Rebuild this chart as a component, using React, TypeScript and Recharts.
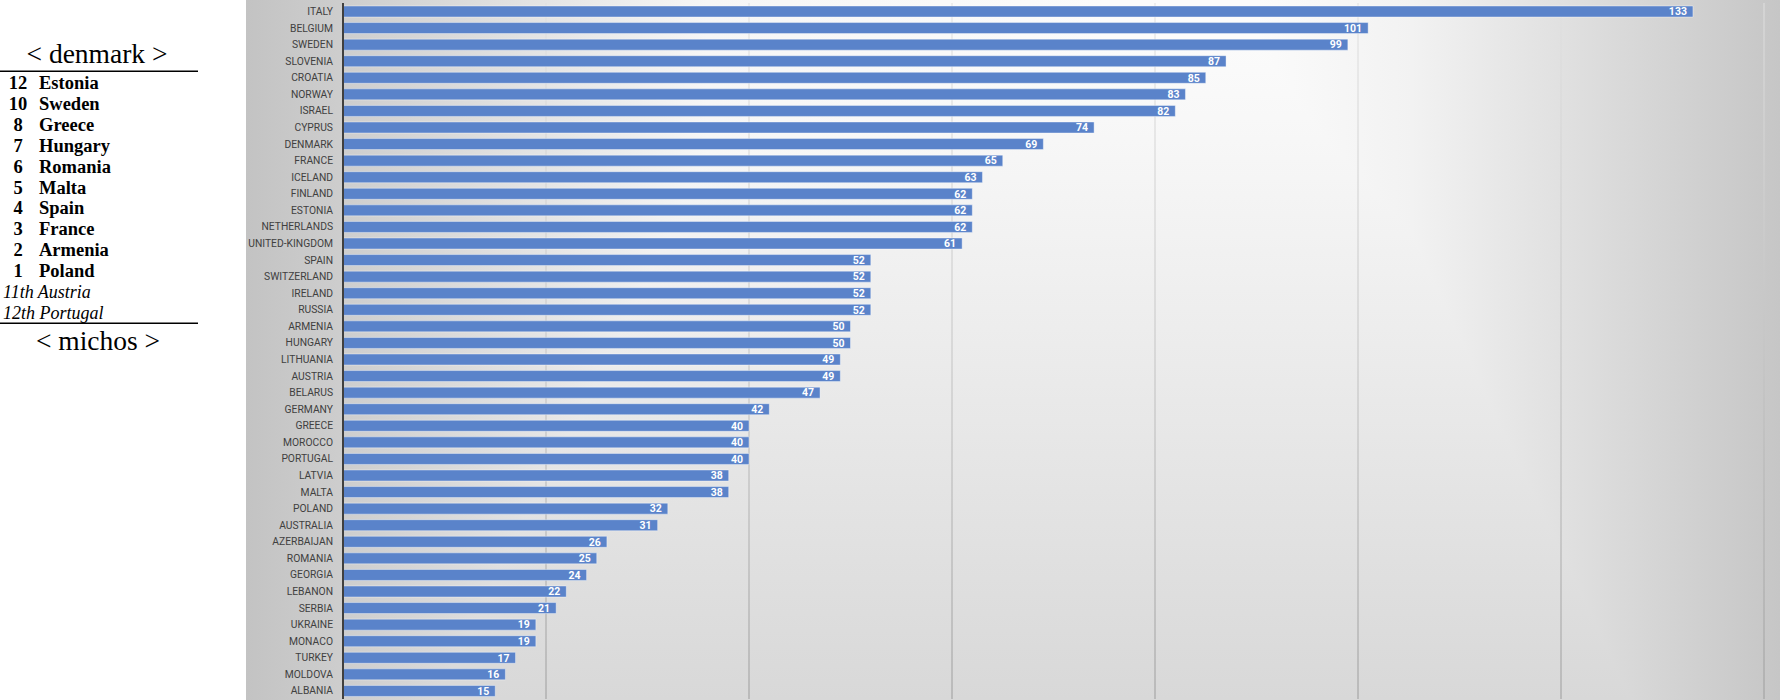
import React from "react";
import {
  BarChart,
  Bar,
  XAxis,
  YAxis,
  CartesianGrid,
  LabelList,
} from "recharts";

// ranking, top to bottom
const countries = [
  "ITALY", "BELGIUM", "SWEDEN", "SLOVENIA", "CROATIA", "NORWAY", "ISRAEL",
  "CYPRUS", "DENMARK", "FRANCE", "ICELAND", "FINLAND", "ESTONIA", "NETHERLANDS",
  "UNITED-KINGDOM", "SPAIN", "SWITZERLAND", "IRELAND", "RUSSIA", "ARMENIA",
  "HUNGARY", "LITHUANIA", "AUSTRIA", "BELARUS", "GERMANY", "GREECE", "MOROCCO",
  "PORTUGAL", "LATVIA", "MALTA", "POLAND", "AUSTRALIA", "AZERBAIJAN", "ROMANIA",
  "GEORGIA", "LEBANON", "SERBIA", "UKRAINE", "MONACO", "TURKEY", "MOLDOVA",
  "ALBANIA",
];
const points = [
  133, 101, 99, 87, 85, 83, 82, 74, 69, 65, 63, 62, 62, 62, 61, 52, 52, 52, 52,
  50, 50, 49, 49, 47, 42, 40, 40, 40, 38, 38, 32, 31, 26, 25, 24, 22, 21, 19,
  19, 17, 16, 15,
];
const gridTicks = [0, 20, 40, 60, 80, 100, 120, 140];

// side panel: one voter's list
const voterName = "denmark";
const nextVoter = "michos";
const votePoints = [12, 10, 8, 7, 6, 5, 4, 3, 2, 1];
const voteCountries = [
  "Estonia", "Sweden", "Greece", "Hungary", "Romania", "Malta", "Spain",
  "France", "Armenia", "Poland",
];
const extraPlaces = ["11th", "12th"];
const extraCountries = ["Austria", "Portugal"];

const data = countries.map((c, i) => ({ country: c, points: points[i] }));

const SERIF = "'Liberation Serif', 'Times New Roman', serif";
const SANS = "Roboto, 'Liberation Sans', sans-serif";

const SidePanel = () => {
  const rowY = (i: number) => 89 + i * 20.9;
  return (
    <svg width={246} height={700} style={{ position: "absolute", left: 0, top: 0 }}>
      <text x={97} y={63} textAnchor="middle" fontFamily={SERIF} fontSize={27.5} fill="#000">
        {`< ${voterName} >`}
      </text>
      <rect x={0} y={70.5} width={198} height={1.5} fill="#000" />
      {votePoints.map((p, i) => (
        <g key={p} fontFamily={SERIF} fontSize={18.5} fontWeight="bold" fill="#000">
          <text x={18} y={rowY(i)} textAnchor="middle">{p}</text>
          <text x={39} y={rowY(i)}>{voteCountries[i]}</text>
        </g>
      ))}
      {extraPlaces.map((p, i) => (
        <text
          key={p}
          x={3}
          y={rowY(votePoints.length + i)}
          fontFamily={SERIF}
          fontSize={18}
          fontStyle="italic"
          fill="#000"
        >
          {`${p} ${extraCountries[i]}`}
        </text>
      ))}
      <rect x={0} y={322.5} width={198} height={1.5} fill="#000" />
      <text x={98} y={350} textAnchor="middle" fontFamily={SERIF} fontSize={27.5} fill="#000">
        {`< ${nextVoter} >`}
      </text>
    </svg>
  );
};

export default function App() {
  return (
    <div style={{ position: "absolute", left: 0, top: 0, width: 1780, height: 700, background: "#fff" }}>
      <SidePanel />
      <div
        style={{
          position: "absolute",
          left: 246,
          top: 0,
          width: 1534,
          height: 700,
          backgroundImage:
            "linear-gradient(to right, #c3c3c3 0%, #cdcdcd 6%, #e2e2e2 18%, #f6f6f6 30%, #fbfbfb 56%, #fbfbfb 66%, #f2f2f2 76%, #e0e0e0 86%, #c6c6c6 100%), linear-gradient(to bottom, #fdfdfd 0%, #f7f7f7 20%, #e8e8e8 60%, #d8d8d8 100%)",
          backgroundBlendMode: "darken",
        }}
      >
        <BarChart
          width={1534}
          height={700}
          data={data}
          layout="vertical"
          margin={{ top: 3, right: 16, bottom: 1, left: 0 }}
          barCategoryGap="36%"
        >
          <defs>
            <linearGradient id="gridGrad" gradientUnits="userSpaceOnUse" x1={0} y1={0} x2={0} y2={700}>
              <stop offset="0%" stopColor="#e0e0e0" />
              <stop offset="50%" stopColor="#c4c4c4" />
              <stop offset="100%" stopColor="#9c9c9c" />
            </linearGradient>
          </defs>
          <CartesianGrid horizontal={false} stroke="url(#gridGrad)" strokeWidth={1} />
          <XAxis type="number" domain={[0, 140]} ticks={gridTicks} hide />
          <YAxis
            type="category"
            dataKey="country"
            width={97}
            tickLine={false}
            tickMargin={4}
            interval={0}
            axisLine={{ stroke: "#404040", strokeWidth: 2 }}
            tick={{ fontSize: 10.3, fill: "#404040", fontFamily: SANS }}
          />
          <Bar
            dataKey="points"
            fill="#5a83ca"
            stroke="rgba(255,255,255,0.4)"
            strokeWidth={1}
            barSize={11}
            isAnimationActive={false}
          >
            <LabelList
              dataKey="points"
              position="insideRight"
              offset={6}
              fill="#fff"
              fontSize={10.5}
              fontWeight="bold"
              fontFamily={SANS}
            />
          </Bar>
        </BarChart>
      </div>
    </div>
  );
}
